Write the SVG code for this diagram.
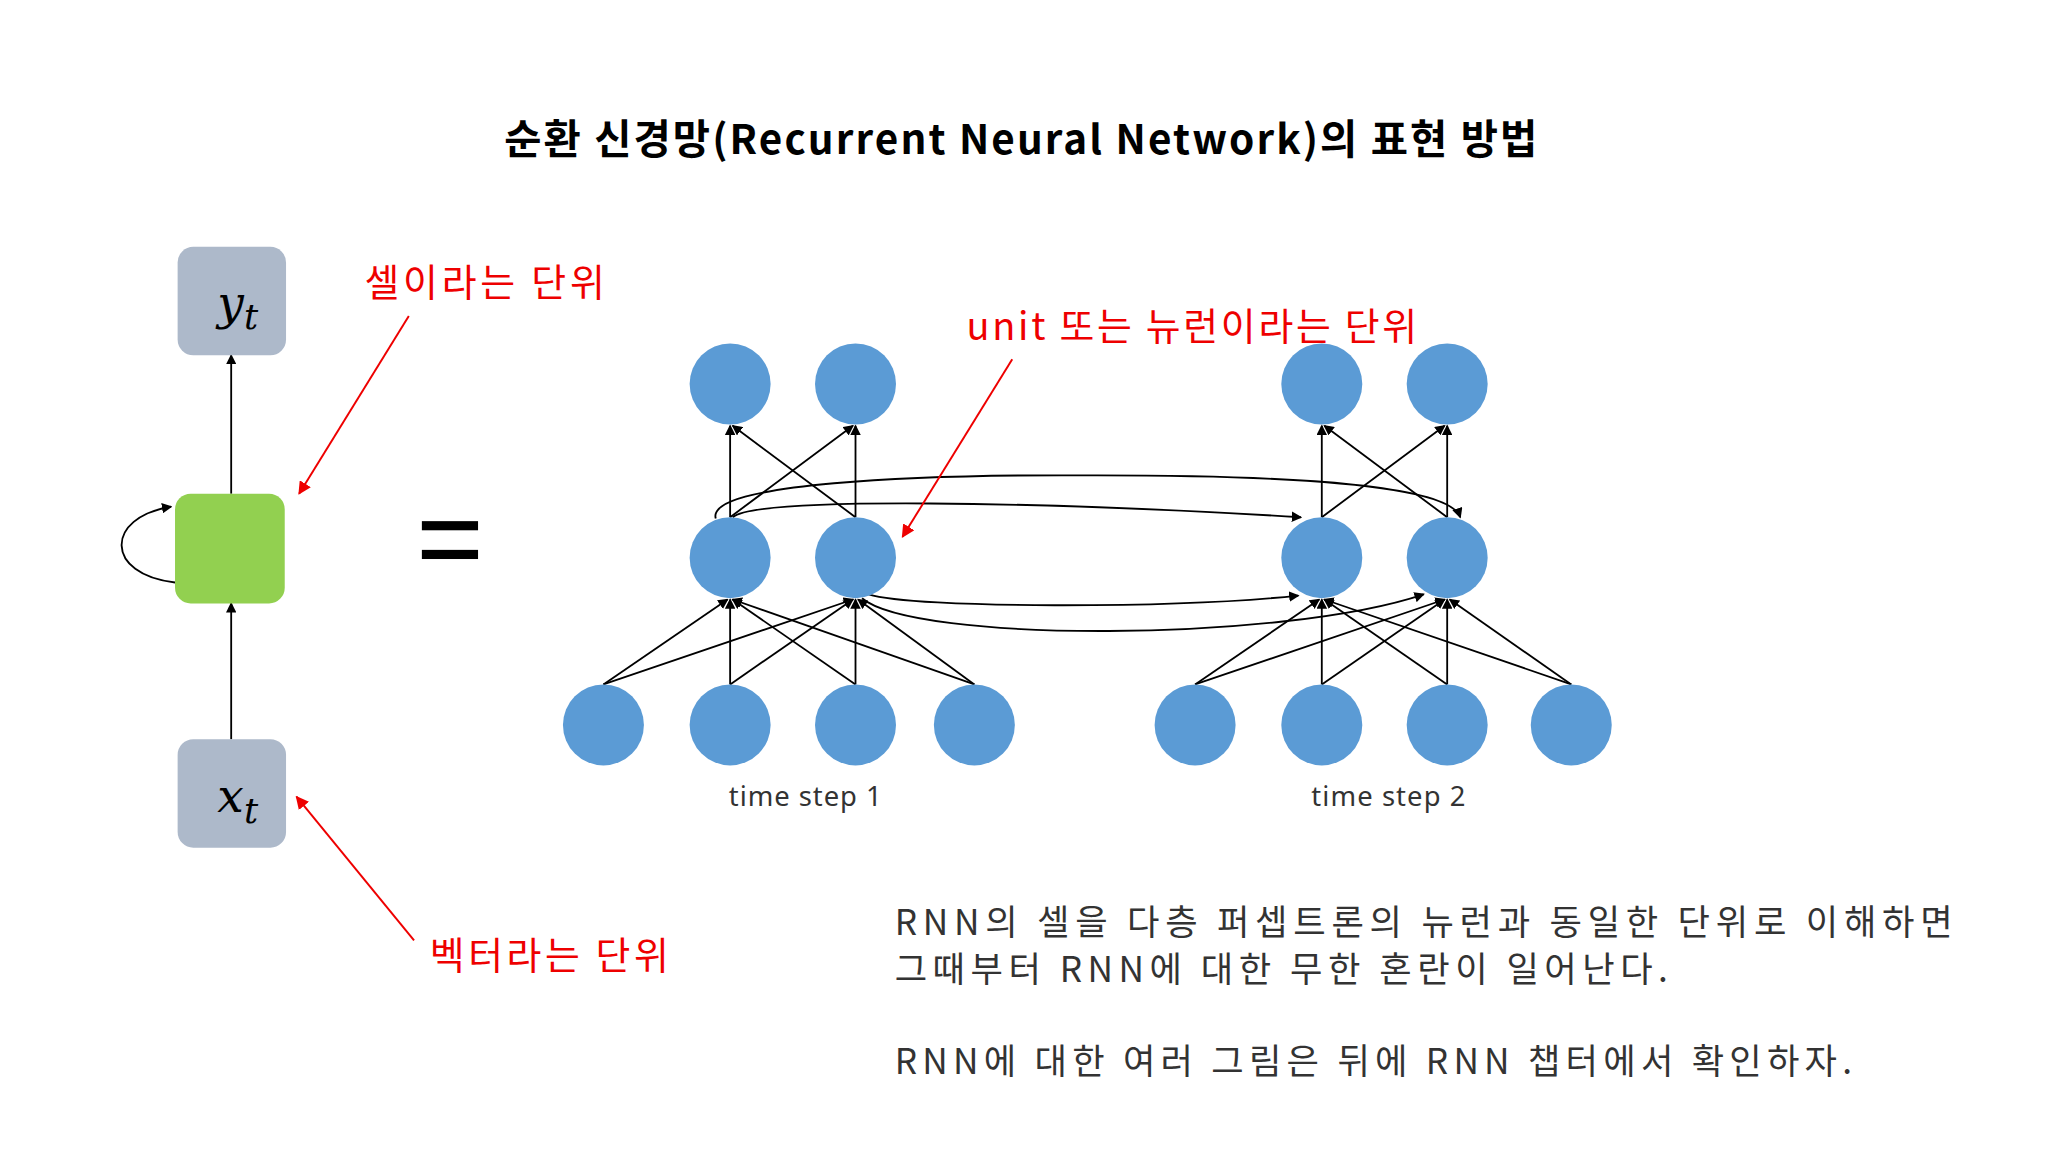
<svg xmlns="http://www.w3.org/2000/svg" width="2048" height="1152" viewBox="0 0 2048 1152">
<defs>
<marker id="ab" markerWidth="8" markerHeight="8" refX="7" refY="4" orient="auto" markerUnits="userSpaceOnUse"><path d="M0,0 L8,4 L0,8 z" fill="#000"/></marker>
<marker id="ar" markerWidth="10" markerHeight="10" refX="9" refY="5" orient="auto" markerUnits="userSpaceOnUse"><path d="M0,0 L10,5 L0,10 z" fill="#e00"/></marker>
<style>
.n{fill:#5b9bd5}
.c{stroke:#000;stroke-width:1.4;fill:none;marker-end:url(#ab)}
.r{stroke:#e00;stroke-width:1.5;fill:none;marker-end:url(#ar)}
.lr{fill:#e00;font-family:"Noto Sans CJK KR",sans-serif;font-size:29px}
.t{font-family:"Noto Sans CJK KR",sans-serif;font-size:27px;fill:#333}
.ts{font-family:"Noto Sans","Noto Sans CJK KR",sans-serif;font-size:21px;fill:#333}
</style>
</defs>
<rect width="2048" height="1152" fill="#fff"/>
<g transform="scale(1.30612)">
<text x="386" y="118" textLength="791" lengthAdjust="spacing" font-family="'Noto Sans CJK KR',sans-serif" font-weight="bold" font-size="31">순환 신경망(Recurrent Neural Network)의 표현 방법</text>
<g id="connectors">
<path class="c" d="M177,378 L177,272"/>
<path class="c" d="M177,566 L177,462"/>
<path class="c" d="M134,446 C80,440 80,396 131,388"/>
<g id="net1">
<path class="c" d="M559,396 L559,326"/><path class="c" d="M559,396 L653,326"/>
<path class="c" d="M655,396 L561,326"/><path class="c" d="M655,396 L655,326"/>
<path class="c" d="M462,524 L557,459"/><path class="c" d="M462,524 L653,459"/>
<path class="c" d="M559,524 L559,459"/><path class="c" d="M559,524 L653,459"/>
<path class="c" d="M655,524 L561,459"/><path class="c" d="M655,524 L655,459"/>
<path class="c" d="M746,524 L561,459"/><path class="c" d="M746,524 L657,459"/>
</g>
<g id="net2">
<path class="c" d="M1012,396 L1012,326"/><path class="c" d="M1012,396 L1106,326"/>
<path class="c" d="M1108,396 L1014,326"/><path class="c" d="M1108,396 L1108,326"/>
<path class="c" d="M915,524 L1010,459"/><path class="c" d="M915,524 L1106,459"/>
<path class="c" d="M1012,524 L1012,459"/><path class="c" d="M1012,524 L1106,459"/>
<path class="c" d="M1108,524 L1014,459"/><path class="c" d="M1108,524 L1108,459"/>
<path class="c" d="M1203,524 L1014,459"/><path class="c" d="M1203,524 L1110,459"/>
</g>
<path class="c" d="M548,397 C540,370 700,363 840,364 C1000,364 1110,372 1118,396"/>
<path class="c" d="M561,396 C580,380 800,384 996,396"/>
<path class="c" d="M665,455 C700,466 900,466 994,456"/>
<path class="c" d="M660,458 C700,492 980,492 1090,455"/>
<path class="r" d="M313,242 L229,378"/>
<path class="r" d="M775,275 L691,411"/>
<path class="r" d="M317,720 L227,610"/>
</g>
<g id="y"><rect x="136" y="189" width="83" height="83" rx="12" fill="#adb9ca"/><text x="182" y="244" text-anchor="middle" font-family="'DejaVu Serif',serif" font-style="italic" font-size="36">y<tspan font-size="27" dy="8">t</tspan></text></g>
<g id="x"><rect x="136" y="566" width="83" height="83" rx="12" fill="#adb9ca"/><text x="182" y="622" text-anchor="middle" font-family="'DejaVu Serif',serif" font-style="italic" font-size="36">x<tspan font-size="27" dy="8">t</tspan></text></g>
<g id="cell"><rect x="134" y="378" width="84" height="84" rx="12" fill="#92d050"/></g>
<g id="eq"><rect x="323" y="399" width="43" height="7" fill="#000"/><rect x="323" y="421" width="43" height="7" fill="#000"/></g>
<g id="neurons">
<ellipse class="n" cx="559" cy="294" rx="31" ry="31"/><ellipse class="n" cx="655" cy="294" rx="31" ry="31"/>
<ellipse class="n" cx="1012" cy="294" rx="31" ry="31"/><ellipse class="n" cx="1108" cy="294" rx="31" ry="31"/>
<ellipse class="n" cx="559" cy="427" rx="31" ry="31"/><ellipse class="n" cx="655" cy="427" rx="31" ry="31"/>
<ellipse class="n" cx="1012" cy="427" rx="31" ry="31"/><ellipse class="n" cx="1108" cy="427" rx="31" ry="31"/>
<ellipse class="n" cx="462" cy="555" rx="31" ry="31"/><ellipse class="n" cx="559" cy="555" rx="31" ry="31"/>
<ellipse class="n" cx="655" cy="555" rx="31" ry="31"/><ellipse class="n" cx="746" cy="555" rx="31" ry="31"/>
<ellipse class="n" cx="915" cy="555" rx="31" ry="31"/><ellipse class="n" cx="1012" cy="555" rx="31" ry="31"/>
<ellipse class="n" cx="1108" cy="555" rx="31" ry="31"/><ellipse class="n" cx="1203" cy="555" rx="31" ry="31"/>
</g>
<text class="ts" x="558" y="617" textLength="117" lengthAdjust="spacing">time step 1</text>
<text class="ts" x="1004" y="617" textLength="118" lengthAdjust="spacing">time step 2</text>
<text class="lr" x="279" y="227" textLength="184" lengthAdjust="spacing">셀이라는 단위</text>
<text class="lr" x="740" y="260" textLength="345" lengthAdjust="spacing">unit 또는 뉴런이라는 단위</text>
<text class="lr" x="329" y="742" textLength="183" lengthAdjust="spacing">벡터라는 단위</text>
<text class="t" x="685" y="716" textLength="810" lengthAdjust="spacing">RNN의 셀을 다층 퍼셉트론의 뉴런과 동일한 단위로 이해하면</text>
<text class="t" x="685" y="752" textLength="592" lengthAdjust="spacing">그때부터 RNN에 대한 무한 혼란이 일어난다.</text>
<text class="t" x="685" y="822" textLength="733" lengthAdjust="spacing">RNN에 대한 여러 그림은 뒤에 RNN 챕터에서 확인하자.</text>
</g>
</svg>
